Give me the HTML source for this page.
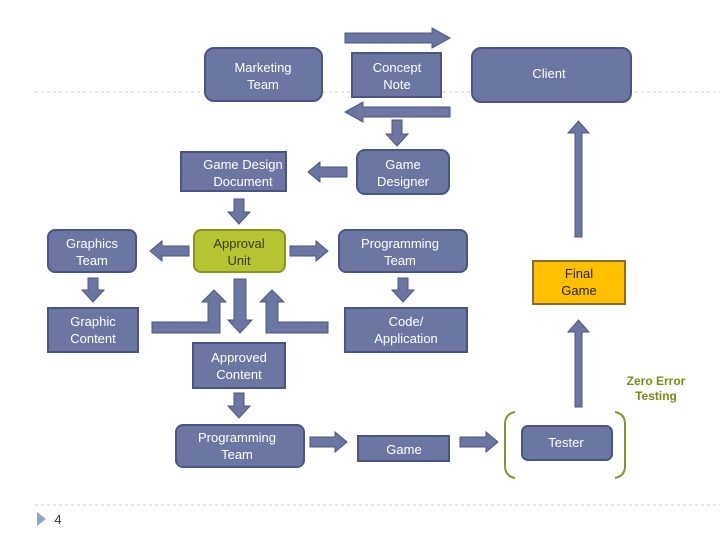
<!DOCTYPE html>
<html><head><meta charset="utf-8"><style>
html,body{margin:0;padding:0;background:#fff;}
svg{display:block;}
text{font-family:"Liberation Sans",sans-serif;font-size:13px;fill:#fff;text-anchor:middle;}
.b{fill:#6b76a3;stroke:#4b5585;stroke-width:2;}
.a{fill:#6b76a3;stroke:#4b5585;stroke-width:1;}
</style></head><body>
<svg width="728" height="546" viewBox="0 0 728 546" xmlns="http://www.w3.org/2000/svg">
<line x1="35" y1="92" x2="720" y2="92" stroke="#c8ccd4" stroke-dasharray="3,3"/>
<line x1="35" y1="505" x2="720" y2="505" stroke="#c8ccd4" stroke-dasharray="3,3"/>
<polygon points="37,512 46,519 37,526" fill="#8fa9c8"/>
<text x="58" y="524" style="fill:#333;font-size:13px">4</text>

<polygon class="a" points="345,33 432,33 432,28 450,38 432,48 432,43 345,43"/>
<polygon class="a" points="450,107 363,107 363,102 345,112 363,122 363,117 450,117"/>
<polygon class="a" points="392,120 402,120 402,134 408,134 397,146 386,134 392,134"/>
<polygon class="a" points="347,167 320,167 320,162 308,172 320,182 320,177 347,177"/>
<polygon class="a" points="234,199 244,199 244,212 250,212 239,224 228,212 234,212"/>
<polygon class="a" points="189,246 162,246 162,241 150,251 162,261 162,256 189,256"/>
<polygon class="a" points="290,246 316,246 316,241 328,251 316,261 316,256 290,256"/>
<polygon class="a" points="88,278 98,278 98,290 104,290 93,302 82,290 88,290"/>
<polygon class="a" points="398,278 408,278 408,290 414,290 403,302 392,290 398,290"/>
<polygon class="a" points="234,279 246,279 246,320 252,320 240,333 228,320 234,320"/>
<polygon class="a" points="152,322 208,322 208,302 202,302 214,290 226,302 220,302 220,333 152,333"/>
<polygon class="a" points="328,322 278,322 278,302 284,302 272,290 260,302 266,302 266,333 328,333"/>
<polygon class="a" points="234,393 244,393 244,406 250,406 239,418 228,406 234,406"/>
<polygon class="a" points="310,437 335,437 335,432 347,442 335,452 335,447 310,447"/>
<polygon class="a" points="460,437 486,437 486,432 498,442 486,452 486,447 460,447"/>
<polygon class="a" points="575,407 582,407 582,332 589,332 578.5,320 568,332 575,332"/>
<polygon class="a" points="575,237 582,237 582,133 589,133 578.5,121 568,133 575,133"/>

<rect class="b" x="205" y="48" width="117" height="53" rx="9"/>
<text x="263" y="72">Marketing</text><text x="263" y="89">Team</text>
<rect class="b" x="352" y="53" width="89" height="44"/>
<text x="397" y="72">Concept</text><text x="397" y="89">Note</text>
<rect class="b" x="472" y="48" width="159" height="54" rx="9"/>
<text x="549" y="78">Client</text>
<rect class="b" x="357" y="150" width="92" height="44" rx="8"/>
<text x="403" y="169">Game</text><text x="403" y="186">Designer</text>
<rect class="b" x="181" y="152" width="105" height="39"/>
<text x="243" y="169">Game Design</text><text x="243" y="186">Document</text>
<rect x="194" y="230" width="91" height="42" rx="7" fill="#b5c430" stroke="#8a9420" stroke-width="2"/>
<text x="239" y="248" style="fill:#3a3a1a">Approval</text><text x="239" y="265" style="fill:#3a3a1a">Unit</text>
<rect class="b" x="48" y="230" width="88" height="42" rx="7"/>
<text x="92" y="248">Graphics</text><text x="92" y="265">Team</text>
<rect class="b" x="339" y="230" width="128" height="42" rx="7"/>
<text x="400" y="248">Programming</text><text x="400" y="265">Team</text>
<rect class="b" x="48" y="308" width="90" height="44"/>
<text x="93" y="326">Graphic</text><text x="93" y="343">Content</text>
<rect class="b" x="345" y="308" width="122" height="44"/>
<text x="406" y="326">Code/</text><text x="406" y="343">Application</text>
<rect class="b" x="193" y="343" width="92" height="45"/>
<text x="239" y="362">Approved</text><text x="239" y="379">Content</text>
<rect class="b" x="176" y="425" width="128" height="42" rx="7"/>
<text x="237" y="442">Programming</text><text x="237" y="459">Team</text>
<rect class="b" x="358" y="436" width="91" height="25"/>
<text x="404" y="454">Game</text>
<rect class="b" x="522" y="426" width="90" height="34" rx="6"/>
<text x="566" y="447">Tester</text>
<rect x="533" y="261" width="92" height="43" fill="#ffc000" stroke="#8a6a30" stroke-width="2"/>
<text x="579" y="278" style="fill:#222">Final</text><text x="579" y="295" style="fill:#222">Game</text>

<path d="M515,412 Q505,414 505,424 L505,466 Q505,476 515,478" fill="none" stroke="#8a9030" stroke-width="2"/>
<path d="M615,412 Q625,414 625,424 L625,466 Q625,476 615,478" fill="none" stroke="#8a9030" stroke-width="2"/>
<text x="656" y="385" style="fill:#7a8a10;font-size:12px;font-weight:bold">Zero Error</text>
<text x="656" y="400" style="fill:#7a8a10;font-size:12px;font-weight:bold">Testing</text>
</svg>
</body></html>
